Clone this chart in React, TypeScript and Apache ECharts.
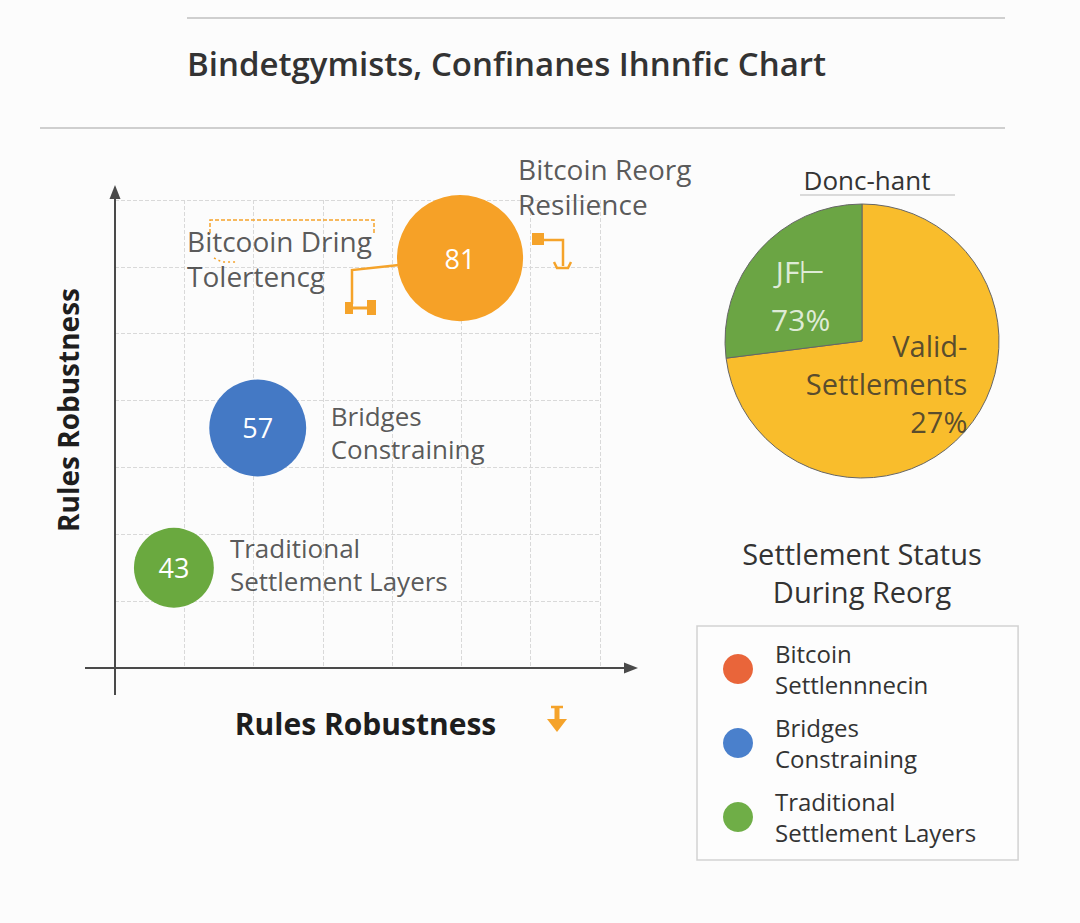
import React, { useEffect, useRef } from "react";
import * as echarts from "echarts";

const titleText = "Bindetgymists, Confinanes Ihnnfic Chart";
const xAxisName = "Rules Robustness";
const yAxisName = "Rules Robustness";

const seriesNames = ["Bitcoin\nSettlennnecin", "Bridges\nConstraining", "Traditional\nSettlement Layers"];
const bubbleX = [49.8, 20.6, 8.5];
const bubbleY = [61.3, 35.9, 15.0];
const bubbleValues = [81, 57, 43];

const annotationTexts = ["Bitcoin Reorg\nResilience", "Bitcooin Dring\nTolertencg", "Bridges\nConstraining", "Traditional\nSettlement Layers"];
const annotationOf = [0, 0, 1, 2];

const pieTitle = "Donc-hant";
const pieNames = ["Valid-\nSettlements", "JF⊢"];
const pieValues = [73, 27];
const piePercentLabels = ["27%", "73%"];

const legendTitle = "Settlement Status\nDuring Reorg";

const FONT = "'Open Sans', 'Noto Sans', sans-serif";
const ORANGE = "#F5A32A";

export default function App() {
  const ref = useRef<HTMLDivElement>(null);
  useEffect(() => {
    if (!ref.current) return;
    const chart = echarts.init(ref.current, undefined, { renderer: "svg" });
    const bubbleColors = ["#F6A127", "#4479C5", "#6AA93F"];
    const legendColors = ["#E9653A", "#4A80CC", "#6FAE47"];
    const sizeOf = (v: number) => 27.6 + 1.216 * v;

    const bubbleSeries = seriesNames.map((n, i) => ({
      type: "scatter",
      name: n,
      z: 3,
      data: [[bubbleX[i], bubbleY[i], bubbleValues[i]]],
      symbolSize: (d: number[]) => sizeOf(d[2]),
      itemStyle: { color: bubbleColors[i], opacity: 1 },
      label: {
        show: true,
        position: "inside",
        formatter: (p: any) => String(p.value[2]),
        color: "#fff",
        fontSize: 27,
        fontFamily: FONT,
      },
      emphasis: { disabled: true },
    }));

    const annStyles = [
      { offset: [58, -72], fontSize: 28, lineHeight: 35 },
      { offset: [-273, 0], fontSize: 28, lineHeight: 35 },
      { offset: [73, 5], fontSize: 26, lineHeight: 33 },
      { offset: [56, -3], fontSize: 26, lineHeight: 33 },
    ];

    const annotationSeries = {
      type: "scatter",
      name: "__annotations",
      z: 4,
      symbolSize: 1,
      itemStyle: { color: "rgba(0,0,0,0)" },
      data: annotationTexts.map((t, k) => ({
        value: [bubbleX[annotationOf[k]], bubbleY[annotationOf[k]]],
        name: t,
        label: {
          show: true,
          position: "inside",
          align: "left",
          verticalAlign: "middle",
          formatter: t,
          color: "#2e2e2e",
          fontFamily: FONT,
          ...annStyles[k],
        },
      })),
      emphasis: { disabled: true },
      silent: true,
    };

    const pieColors = ["#F9BD2C", "#6BA544"];
    const pieLabelStyles = [
      { color: "#2e2e2e", fontSize: 29, lineHeight: 38, offset: [54, -3], align: "right" },
      { color: "#ffffff", fontSize: 30, lineHeight: 48, offset: [-10, 0], align: "center" },
    ];
    const pieTotal = pieValues.reduce((a, b) => a + b, 0);

    const pieSeries = {
      type: "pie",
      center: [862, 341],
      radius: 137,
      startAngle: 90,
      clockwise: true,
      silent: true,
      data: pieNames.map((n, i) => ({
        name: n,
        value: pieValues[i],
        itemStyle: { color: pieColors[i] },
      })),
      itemStyle: { borderColor: "#666", borderWidth: 1 },
      label: { show: false },
      labelLine: { show: false },
      emphasis: { disabled: true },
    };

    // slice labels placed at each slice's mid-angle through a polar system matching the pie
    let cum = 0;
    const pieLabelData = pieValues.map((v, i) => {
      const mid = cum + v / 2;
      cum += v;
      return {
        value: [0.5, mid],
        label: {
          show: true,
          position: "inside",
          verticalAlign: "middle",
          formatter: `${pieNames[i]}\n${piePercentLabels[i]}`,
          fontFamily: FONT,
          ...pieLabelStyles[i],
        },
      };
    });

    const pieLabelSeries = {
      type: "scatter",
      name: "__pieLabels",
      coordinateSystem: "polar",
      symbolSize: 1,
      itemStyle: { color: "rgba(0,0,0,0)" },
      z: 10,
      silent: true,
      data: pieLabelData,
    };

    const lineStyle = { stroke: "#cfcfcf", lineWidth: 2 };
    const orange = { stroke: ORANGE, lineWidth: 2.5, fill: "none" };

    const option: any = {
      animation: false,
      backgroundColor: "#fcfcfc",
      textStyle: { fontFamily: FONT },
      grid: { left: 115, top: 200, width: 485, height: 468 },
      polar: { center: [862, 341], radius: 137 },
      angleAxis: { type: "value", min: 0, max: pieTotal, startAngle: 90, clockwise: true, show: false },
      radiusAxis: { type: "value", min: 0, max: 1, show: false },
      xAxis: {
        type: "value",
        min: 0,
        max: 70,
        interval: 10,
        axisLine: { show: false },
        axisTick: { show: false },
        axisLabel: { show: false },
        splitLine: { show: true, lineStyle: { type: "dashed", color: "#d9d9d9", width: 1 } },
        name: xAxisName,
        nameLocation: "middle",
        nameGap: 40,
        nameTextStyle: { fontSize: 30, fontWeight: "bold", color: "#1e1e1e", fontFamily: FONT, padding: [0, 0, 0, 16] },
      },
      yAxis: {
        type: "value",
        min: 0,
        max: 70,
        interval: 10,
        axisLine: { show: false },
        axisTick: { show: false },
        axisLabel: { show: false },
        splitLine: { show: true, lineStyle: { type: "dashed", color: "#d9d9d9", width: 1 } },
      },
      legend: {
        orient: "vertical",
        left: 697,
        top: 626,
        icon: "circle",
        itemWidth: 30,
        itemHeight: 30,
        itemGap: 12,
        selectedMode: false,
        padding: [12, 42, 12, 26],
        borderColor: "#d2d2d2",
        borderWidth: 1.5,
        backgroundColor: "#fdfdfd",
        textStyle: { fontSize: 24, lineHeight: 31, color: "#333", fontFamily: FONT, padding: [0, 0, 0, 17] },
        data: seriesNames.map((n, i) => ({ name: n, itemStyle: { color: legendColors[i] } })),
      },
      series: [...bubbleSeries, annotationSeries, pieSeries, pieLabelSeries],
      graphic: [
        { type: "line", shape: { x1: 187, y1: 18, x2: 1005, y2: 18 }, style: lineStyle, silent: true },
        { type: "line", shape: { x1: 40, y1: 128, x2: 1005, y2: 128 }, style: lineStyle, silent: true },
        {
          type: "text",
          x: 187,
          y: 63,
          style: { text: titleText, fontSize: 33, fontWeight: 600, fill: "#333", fontFamily: FONT, verticalAlign: "middle" },
        },
        {
          type: "text",
          x: 68,
          y: 410,
          rotation: Math.PI / 2,
          style: { text: yAxisName, fontSize: 28, fontWeight: "bold", fill: "#1e1e1e", fontFamily: FONT, align: "center", verticalAlign: "middle" },
        },
        // axes
        { type: "line", shape: { x1: 115, y1: 695, x2: 115, y2: 196 }, style: { stroke: "#4a4a4a", lineWidth: 2 }, z: 10 },
        { type: "polygon", shape: { points: [[115, 185], [109.5, 199], [120.5, 199]] }, style: { fill: "#4a4a4a" }, z: 10 },
        { type: "line", shape: { x1: 85, y1: 668, x2: 627, y2: 668 }, style: { stroke: "#4a4a4a", lineWidth: 2 }, z: 10 },
        { type: "polygon", shape: { points: [[638, 668], [624, 662.5], [624, 673.5]] }, style: { fill: "#4a4a4a" }, z: 10 },
        // orange decorations
        { type: "polyline", shape: { points: [[210, 233], [210, 220], [374, 220], [374, 235]] }, style: { stroke: ORANGE, lineWidth: 1.5, lineDash: [4, 2], fill: "none" }, z: 5 },
        { type: "polyline", shape: { points: [[214, 258], [222, 262], [236, 262]] }, style: { stroke: ORANGE, lineWidth: 1.5, lineDash: [2, 3], fill: "none" }, z: 5 },
        { type: "polyline", shape: { points: [[399, 265], [352, 270], [352, 304]] }, style: orange, z: 5 },
        { type: "rect", shape: { x: 345, y: 302, width: 8, height: 12 }, style: { fill: ORANGE }, z: 5 },
        { type: "rect", shape: { x: 367, y: 300, width: 9, height: 15 }, style: { fill: ORANGE }, z: 5 },
        { type: "line", shape: { x1: 353, y1: 308, x2: 367, y2: 308 }, style: { stroke: ORANGE, lineWidth: 3 }, z: 5 },
        { type: "rect", shape: { x: 532, y: 233, width: 12, height: 12 }, style: { fill: ORANGE }, z: 5 },
        { type: "polyline", shape: { points: [[544, 240], [563, 240], [563, 266]] }, style: orange, z: 5 },
        { type: "polyline", shape: { points: [[554, 262], [557, 268], [568, 268], [571, 262]] }, style: orange, z: 5 },
        { type: "line", shape: { x1: 551, y1: 707, x2: 563, y2: 707 }, style: { stroke: ORANGE, lineWidth: 2.5 }, z: 5 },
        { type: "line", shape: { x1: 557, y1: 707, x2: 557, y2: 722 }, style: { stroke: ORANGE, lineWidth: 5 }, z: 5 },
        { type: "polygon", shape: { points: [[547, 719], [567, 719], [557, 732]] }, style: { fill: ORANGE }, z: 5 },
        // pie title
        {
          type: "text",
          x: 867,
          y: 180,
          style: { text: pieTitle, fontSize: 26, fill: "#333", fontFamily: FONT, align: "center", verticalAlign: "middle" },
        },
        { type: "line", shape: { x1: 800, y1: 195, x2: 955, y2: 195 }, style: { stroke: "#cfcfcf", lineWidth: 1.5 } },
        // legend title
        {
          type: "text",
          x: 862,
          y: 572,
          style: { text: legendTitle, fontSize: 29, lineHeight: 38, fill: "#333", fontFamily: FONT, align: "center", verticalAlign: "middle" },
        },
      ],
    };
    chart.setOption(option);
    return () => chart.dispose();
  }, []);
  return <div ref={ref} style={{ position: "fixed", left: 0, top: 0, width: 1080, height: 923 }} />;
}
